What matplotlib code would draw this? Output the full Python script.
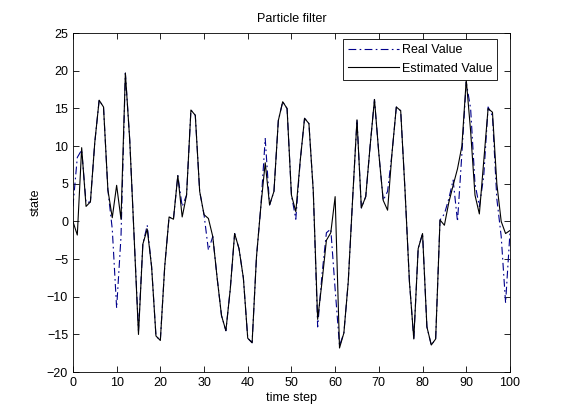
import numpy as np
import matplotlib
matplotlib.use("Agg")
import matplotlib.pyplot as plt

plt.rcParams['font.family'] = ['Liberation Sans', 'DejaVu Sans']

# time steps and the two series
t = np.arange(0, 101)

estimated = [
    0, -1.8, 9.8, 2, 2.6, 10.5, 16.1, 15.2, 4.2, 0.5,
    4.8, 0.3, 19.7, 10.8, -2, -15, -3, -1, -6, -15.2,
    -15.8, -6, 0.6, 0.3, 6.1, 0.6, 3.5, 14.8, 14.1, 4,
    0.9, 0.4, -2, -7.5, -12.5, -14.5, -9, -1.6, -3.6, -7.5,
    -15.5, -16.1, -4.7, 2, 7.8, 2.2, 4, 13.4, 15.9, 15,
    3.5, 1.3, 8, 13.7, 13, 4, -13, -8, -2.5, -1.5,
    3.3, -16.8, -14.8, -8, 3, 13.5, 1.8, 3.3, 10, 16.2,
    9, 2.8, 1.5, 9, 15.2, 14.7, 4, -8, -15.6, -3.6,
    -1.6, -14, -16.4, -15.6, 0.2, -0.5, 2.5, 4.8, 7, 10,
    18.8, 12, 3.5, 1, 8, 15, 14.5, 5, 0, -1.6,
    -1.2,
]

real = [
    2, 8.5, 9.5, 2.5, 2.6, 10.5, 16.1, 15.2, 4.2, -1,
    -11.5, -2, 19.7, 10.8, -2, -14.5, -3, -0.5, -6, -15.2,
    -15.8, -6, 0.6, 0.3, 6.1, 2, 3.5, 14.8, 14.1, 4,
    0.9, -3.8, -2, -7.5, -12.5, -14.5, -9, -1.6, -3.6, -7.5,
    -15.5, -16.1, -4.7, 2, 11, 2.2, 4, 13.4, 15.9, 15,
    3.5, 0.3, 8, 13.7, 13, 4, -14, -7, -1.5, -1,
    -9, -16.5, -14.8, -8, 3, 13.5, 1.8, 3.3, 10, 16.2,
    9, 2.8, 4, 9, 15.2, 14.7, 4, -8, -15.6, -3.6,
    -1.6, -14, -16.4, -15.6, 0.2, 1, 3, 5.5, 0, 9,
    18.5, 15, 5, 2, 6, 15.2, 14, 3, -2, -10.8,
    -1.5,
]

fig = plt.figure(figsize=(5.61, 4.2), dpi=100)
ax = fig.add_axes([0.13, 0.114, 0.779, 0.807])

ax.plot(t, real, color='#00008b', linestyle=(0, (7, 3, 1.5, 3)), linewidth=0.8, label='Real Value')
ax.plot(t, estimated, color='k', linestyle='-', linewidth=0.8, label='Estimated Value')

ax.set_xlim(0, 100)
ax.set_ylim(-20, 25)
ax.set_xticks(np.arange(0, 101, 10))
ax.set_yticks(np.arange(-20, 26, 5))
ax.tick_params(direction='in', top=True, right=True, labelsize=9, length=4, width=0.6)
for s in ax.spines.values():
    s.set_linewidth(0.6)

ax.set_title('Particle filter', fontsize=9, pad=8)
ax.set_xlabel('time step', fontsize=9, labelpad=2)
ax.set_ylabel('state', fontsize=9, labelpad=4)

leg = ax.legend(loc='upper right', fontsize=9, handlelength=4.1, fancybox=False,
                framealpha=1, edgecolor='k', borderaxespad=0.5, borderpad=0.4,
                labelspacing=0.5, handletextpad=0.2, bbox_to_anchor=(0.985, 1.0))
leg.get_frame().set_linewidth(0.6)

fig.savefig('out.png', dpi=100)
